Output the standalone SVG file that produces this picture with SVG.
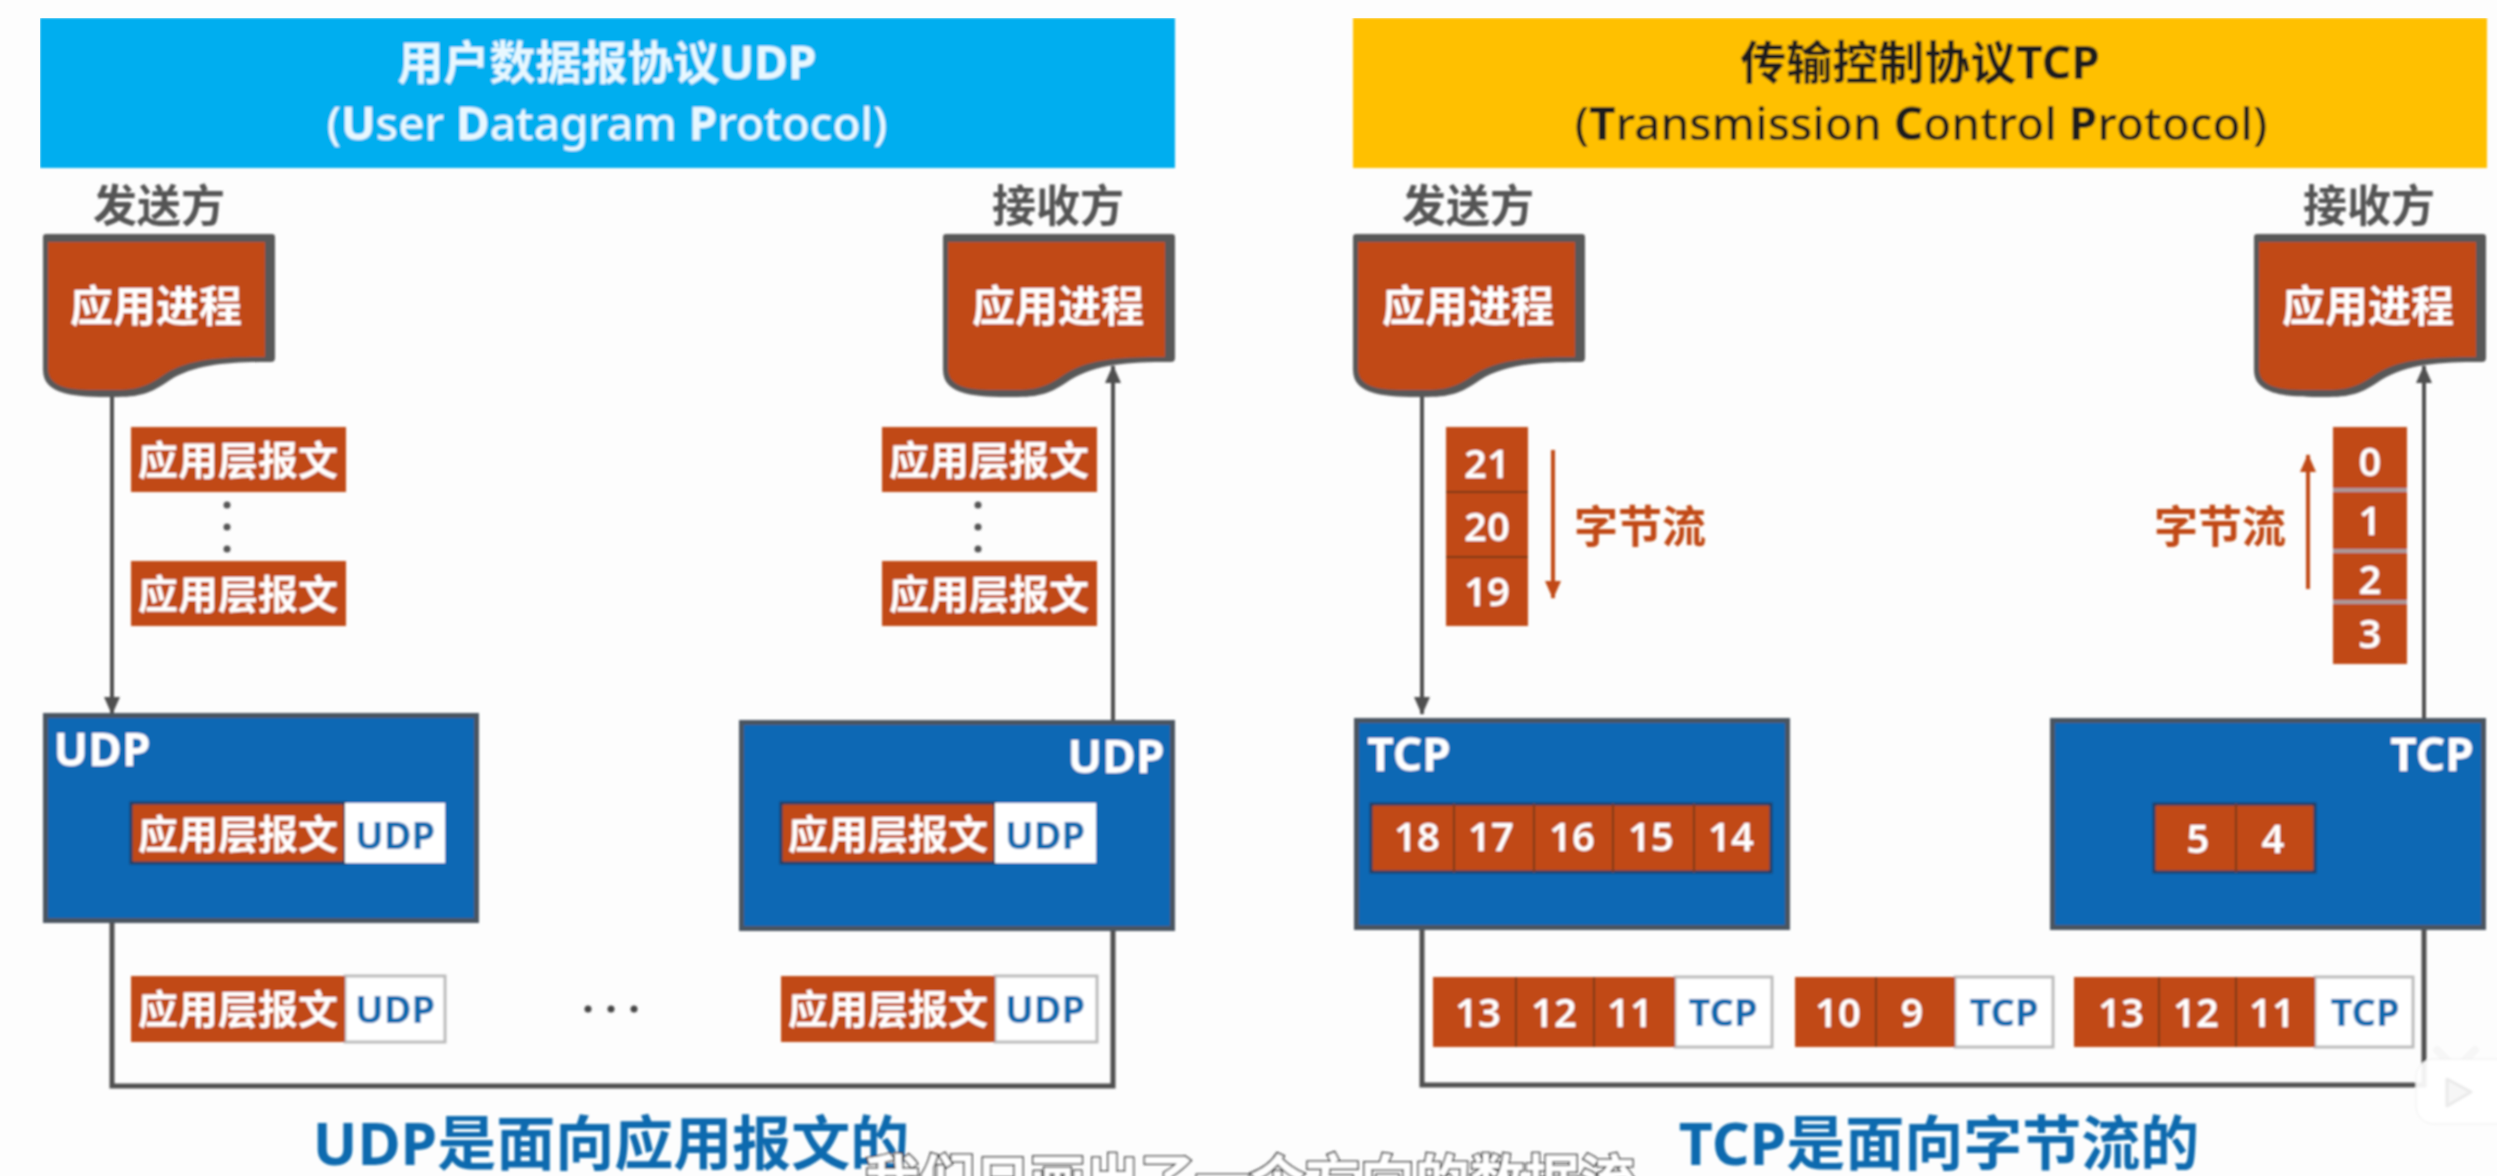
<svg xmlns="http://www.w3.org/2000/svg" width="2497" height="1176" viewBox="0 0 2497 1176">
<style>
text{font-family:"Noto Sans","Noto Sans CJK SC",sans-serif;text-anchor:middle}
.h{font-size:46px;font-weight:700}
.s2{font-size:46px;font-weight:500}
.r{font-size:44px;font-weight:700;fill:#555}
.w{fill:#fff;font-weight:700}
.p{font-size:43px}
.m{font-size:40px}
.n{font-size:40px;font-weight:600}
.b{fill:#C14A13}
.box{fill:#0C68B4;stroke:#4A5560;stroke-width:5}
.sh{stroke:#1E3F66;stroke-width:3}
.wh{fill:#fff;stroke:#bbb;stroke-width:3}
.div{stroke:#7A3A18;stroke-width:2}
.bl{fill:#0F6AAF;font-weight:700}
.lab{font-size:46px}
.bs{font-size:44px;font-weight:700}
.bt{font-size:59px}
.sm{font-size:38px;font-weight:700}
.ln{fill:none;stroke:#505050;stroke-width:5}
.la{fill:none;stroke:#505050;stroke-width:4}
.br{fill:none;stroke:#C14A13;stroke-width:4}
.of{fill:#595959}
.in{fill:#C14A13}
</style>
<defs>
<marker id="ah" markerWidth="18" markerHeight="16" refX="17" refY="8" orient="auto" markerUnits="userSpaceOnUse"><path d="M0 0L18 8L0 16z" fill="#505050"/></marker>
<marker id="ab" markerWidth="18" markerHeight="16" refX="17" refY="8" orient="auto" markerUnits="userSpaceOnUse"><path d="M0 0L18 8L0 16z" fill="#C14A13"/></marker>
<filter id="soft" x="0" y="0" width="100%" height="100%"><feGaussianBlur stdDeviation="0.8"/></filter>
<g id="d"><path class="of" d="M3 0H229Q232 0 232 3V124Q232 128 228 128C185 128 153 130 127 146C107 160 97 163 70 163C35 163 0 162 0 136V3Q0 0 3 0Z"/><path class="in" d="M5 8H222V123C182 123 147 124 122 140C102 154 92 156 70 156C37 156 5 158 5 134Z"/></g>
</defs>
<rect width="2497" height="1176" fill="#FDFDFD"/>
<g filter="url(#soft)">

<g id="udp-header"><rect x="40" y="18" width="1135" height="150" fill="#00AEEF"/>
<text x="607" y="79" class="h" fill="#E8F8FF">用户数据报协议UDP</text>
<text x="607" y="140" class="s2" fill="#E8F8FF">(<tspan font-weight="700">U</tspan>ser <tspan font-weight="700">D</tspan>atagram <tspan font-weight="700">P</tspan>rotocol)</text></g>
<g id="tcp-header"><rect x="1353" y="18" width="1134" height="150" fill="#FFC000"/>
<text x="1920" y="79" class="h" fill="#1A1A1A">传输控制协议TCP</text>
<text x="1921" y="140" class="s2" fill="#1A1A1A">(<tspan font-weight="700">T</tspan>ransmission <tspan font-weight="700">C</tspan>ontrol <tspan font-weight="700">P</tspan>rotocol)</text></g>

<g id="connectors">
<path class="la" marker-end="url(#ah)" d="M112 396V714"/>
<path class="ln" d="M112 922V1086H1113V930"/>
<path class="la" d="M1113 721V400"/>
<path class="la" marker-end="url(#ah)" d="M1422 396V714"/>
<path class="ln" d="M1422 929V1085H2424V929"/>
<path class="la" d="M2424 719V400"/>
<path class="br" marker-end="url(#ab)" d="M1553 450V598"/>
<path class="br" marker-end="url(#ab)" d="M2308 589V455"/>
</g>

<g id="udp-sender"><text x="159" y="222" class="r">发送方</text><use href="#d" x="43" y="234"/><text x="156" y="322" class="w p">应用进程</text></g>
<g id="udp-receiver"><text x="1058" y="222" class="r">接收方</text><use href="#d" x="943" y="234"/><path class="la" marker-end="url(#ah)" d="M1113 400V366"/><text x="1058" y="322" class="w p">应用进程</text></g>
<g id="tcp-sender"><text x="1468" y="222" class="r">发送方</text><use href="#d" x="1353" y="234"/><text x="1468" y="322" class="w p">应用进程</text></g>
<g id="tcp-receiver"><text x="2369" y="222" class="r">接收方</text><use href="#d" x="2254" y="234"/><path class="la" marker-end="url(#ah)" d="M2424 400V366"/><text x="2368" y="322" class="w p">应用进程</text></g>

<g id="udp-msgs-send">
<rect class="b" x="131" y="427" width="215" height="65"/><text x="238" y="475" class="w m">应用层报文</text>
<rect class="b" x="131" y="561" width="215" height="65"/><text x="238" y="609" class="w m">应用层报文</text>
<g fill="#555"><circle cx="227" cy="505" r="3.5"/><circle cx="227" cy="527" r="3.5"/><circle cx="227" cy="549" r="3.5"/></g></g>
<g id="udp-msgs-recv">
<rect class="b" x="882" y="427" width="215" height="65"/><text x="989" y="475" class="w m">应用层报文</text>
<rect class="b" x="882" y="561" width="215" height="65"/><text x="989" y="609" class="w m">应用层报文</text>
<g fill="#555"><circle cx="978" cy="505" r="3.5"/><circle cx="978" cy="527" r="3.5"/><circle cx="978" cy="549" r="3.5"/></g></g>

<g id="udp-box-send"><rect class="box" x="45.5" y="715.5" width="431" height="205"/>
<text x="102" y="766" class="w lab">UDP</text>
<rect class="b sh" x="131" y="803" width="214" height="60"/><text x="238" y="849" class="w m">应用层报文</text>
<rect x="345" y="803" width="100" height="60" fill="#fff"/><text x="395" y="849" class="bl sm">UDP</text></g>
<g id="udp-box-recv"><rect class="box" x="741.5" y="722.5" width="431" height="206"/>
<text x="1116" y="773" class="w lab">UDP</text>
<rect class="b sh" x="781" y="803" width="214" height="60"/><text x="888" y="849" class="w m">应用层报文</text>
<rect x="995" y="803" width="101" height="60" fill="#fff"/><text x="1045" y="849" class="bl sm">UDP</text></g>

<g id="udp-seg-1"><rect class="wh" x="345" y="976" width="100" height="66"/><rect class="b" x="131" y="976" width="214" height="66"/><text x="238" y="1024" class="w m">应用层报文</text><text x="395" y="1023" class="bl sm">UDP</text></g>
<g id="udp-dots" fill="#444"><circle cx="588" cy="1009" r="3.5"/><circle cx="611" cy="1009" r="3.5"/><circle cx="634" cy="1009" r="3.5"/></g>
<g id="udp-seg-2"><rect class="wh" x="995" y="976" width="102" height="66"/><rect class="b" x="781" y="976" width="214" height="66"/><text x="888" y="1024" class="w m">应用层报文</text><text x="1045" y="1023" class="bl sm">UDP</text></g>

<g id="tcp-stack-send"><rect class="b" x="1446" y="427" width="82" height="199"/><path class="div" d="M1446 492H1528M1446 557H1528"/>
<text x="1487" y="478" class="w n">21</text><text x="1487" y="541" class="w n">20</text><text x="1487" y="606" class="w n">19</text></g>
<text id="bs-send" x="1640" y="543" class="b bs">字节流</text>
<g id="tcp-stack-recv"><rect class="b" x="2333" y="427" width="74" height="237"/><path d="M2333 490H2407M2333 551H2407M2333 602H2407" stroke="#A99" stroke-width="4"/>
<text x="2370" y="476" class="w n">0</text><text x="2370" y="535" class="w n">1</text><text x="2370" y="594" class="w n">2</text><text x="2370" y="648" class="w n">3</text></g>
<text id="bs-recv" x="2220" y="543" class="b bs">字节流</text>

<g id="tcp-box-send"><rect class="box" x="1356.5" y="720.5" width="431" height="207"/>
<text x="1409" y="771" class="w lab">TCP</text>
<rect class="b sh" x="1371" y="804" width="400" height="68"/><path class="div" d="M1454 804V872M1534 804V872M1613 804V872M1694 804V872"/>
<text x="1417" y="851" class="w n">18</text><text x="1491" y="851" class="w n">17</text><text x="1572" y="851" class="w n">16</text><text x="1651" y="851" class="w n">15</text><text x="1731" y="851" class="w n">14</text></g>
<g id="tcp-box-recv"><rect class="box" x="2052.5" y="720.5" width="431" height="207"/>
<text x="2432" y="771" class="w lab">TCP</text>
<rect class="b sh" x="2154" y="804" width="161" height="68"/><path class="div" d="M2236 804V872"/>
<text x="2198" y="853" class="w n">5</text><text x="2273" y="853" class="w n">4</text></g>

<g id="tcp-seg-1"><rect class="wh" x="1675" y="977" width="97" height="70"/><rect class="b" x="1433" y="977" width="242" height="70"/><path class="div" d="M1516 977V1047M1594 977V1047"/>
<text x="1478" y="1027" class="w n">13</text><text x="1554" y="1027" class="w n">12</text><text x="1630" y="1027" class="w n">11</text><text x="1723" y="1026" class="bl sm">TCP</text></g>
<g id="tcp-seg-2"><rect class="wh" x="1955" y="977" width="98" height="70"/><rect class="b" x="1795" y="977" width="160" height="70"/><path class="div" d="M1876 977V1047"/>
<text x="1838" y="1027" class="w n">10</text><text x="1912" y="1027" class="w n">9</text><text x="2004" y="1026" class="bl sm">TCP</text></g>
<g id="tcp-seg-3"><rect class="wh" x="2315" y="977" width="98" height="70"/><rect class="b" x="2074" y="977" width="241" height="70"/><path class="div" d="M2159 977V1047M2236 977V1047"/>
<text x="2121" y="1027" class="w n">13</text><text x="2196" y="1027" class="w n">12</text><text x="2272" y="1027" class="w n">11</text><text x="2365" y="1026" class="bl sm">TCP</text></g>

<text id="udp-note" x="611" y="1165" class="bl bt">UDP是面向应用报文的</text>
<text id="tcp-note" x="1939" y="1165" class="bl bt">TCP是面向字节流的</text>
<text id="caption" x="1250" y="1200" font-size="55" font-weight="700" fill="#fff" stroke="#333" stroke-width="3" paint-order="stroke">我们只画出了一个方向的数据流</text>

<g id="watermark"><path d="M2437 1050L2449 1062M2475 1050L2463 1062" stroke="#F6F6F6" stroke-width="8" stroke-linecap="round"/><rect x="2416" y="1059" width="100" height="65" rx="18" fill="#fff" fill-opacity="0.93" stroke="#eee" stroke-width="1"/><path d="M2447 1079L2471 1092L2447 1106Z" fill="#F6F6F6" stroke="#EAEAEA" stroke-width="3" stroke-linejoin="round"/></g>
</g>
</svg>
